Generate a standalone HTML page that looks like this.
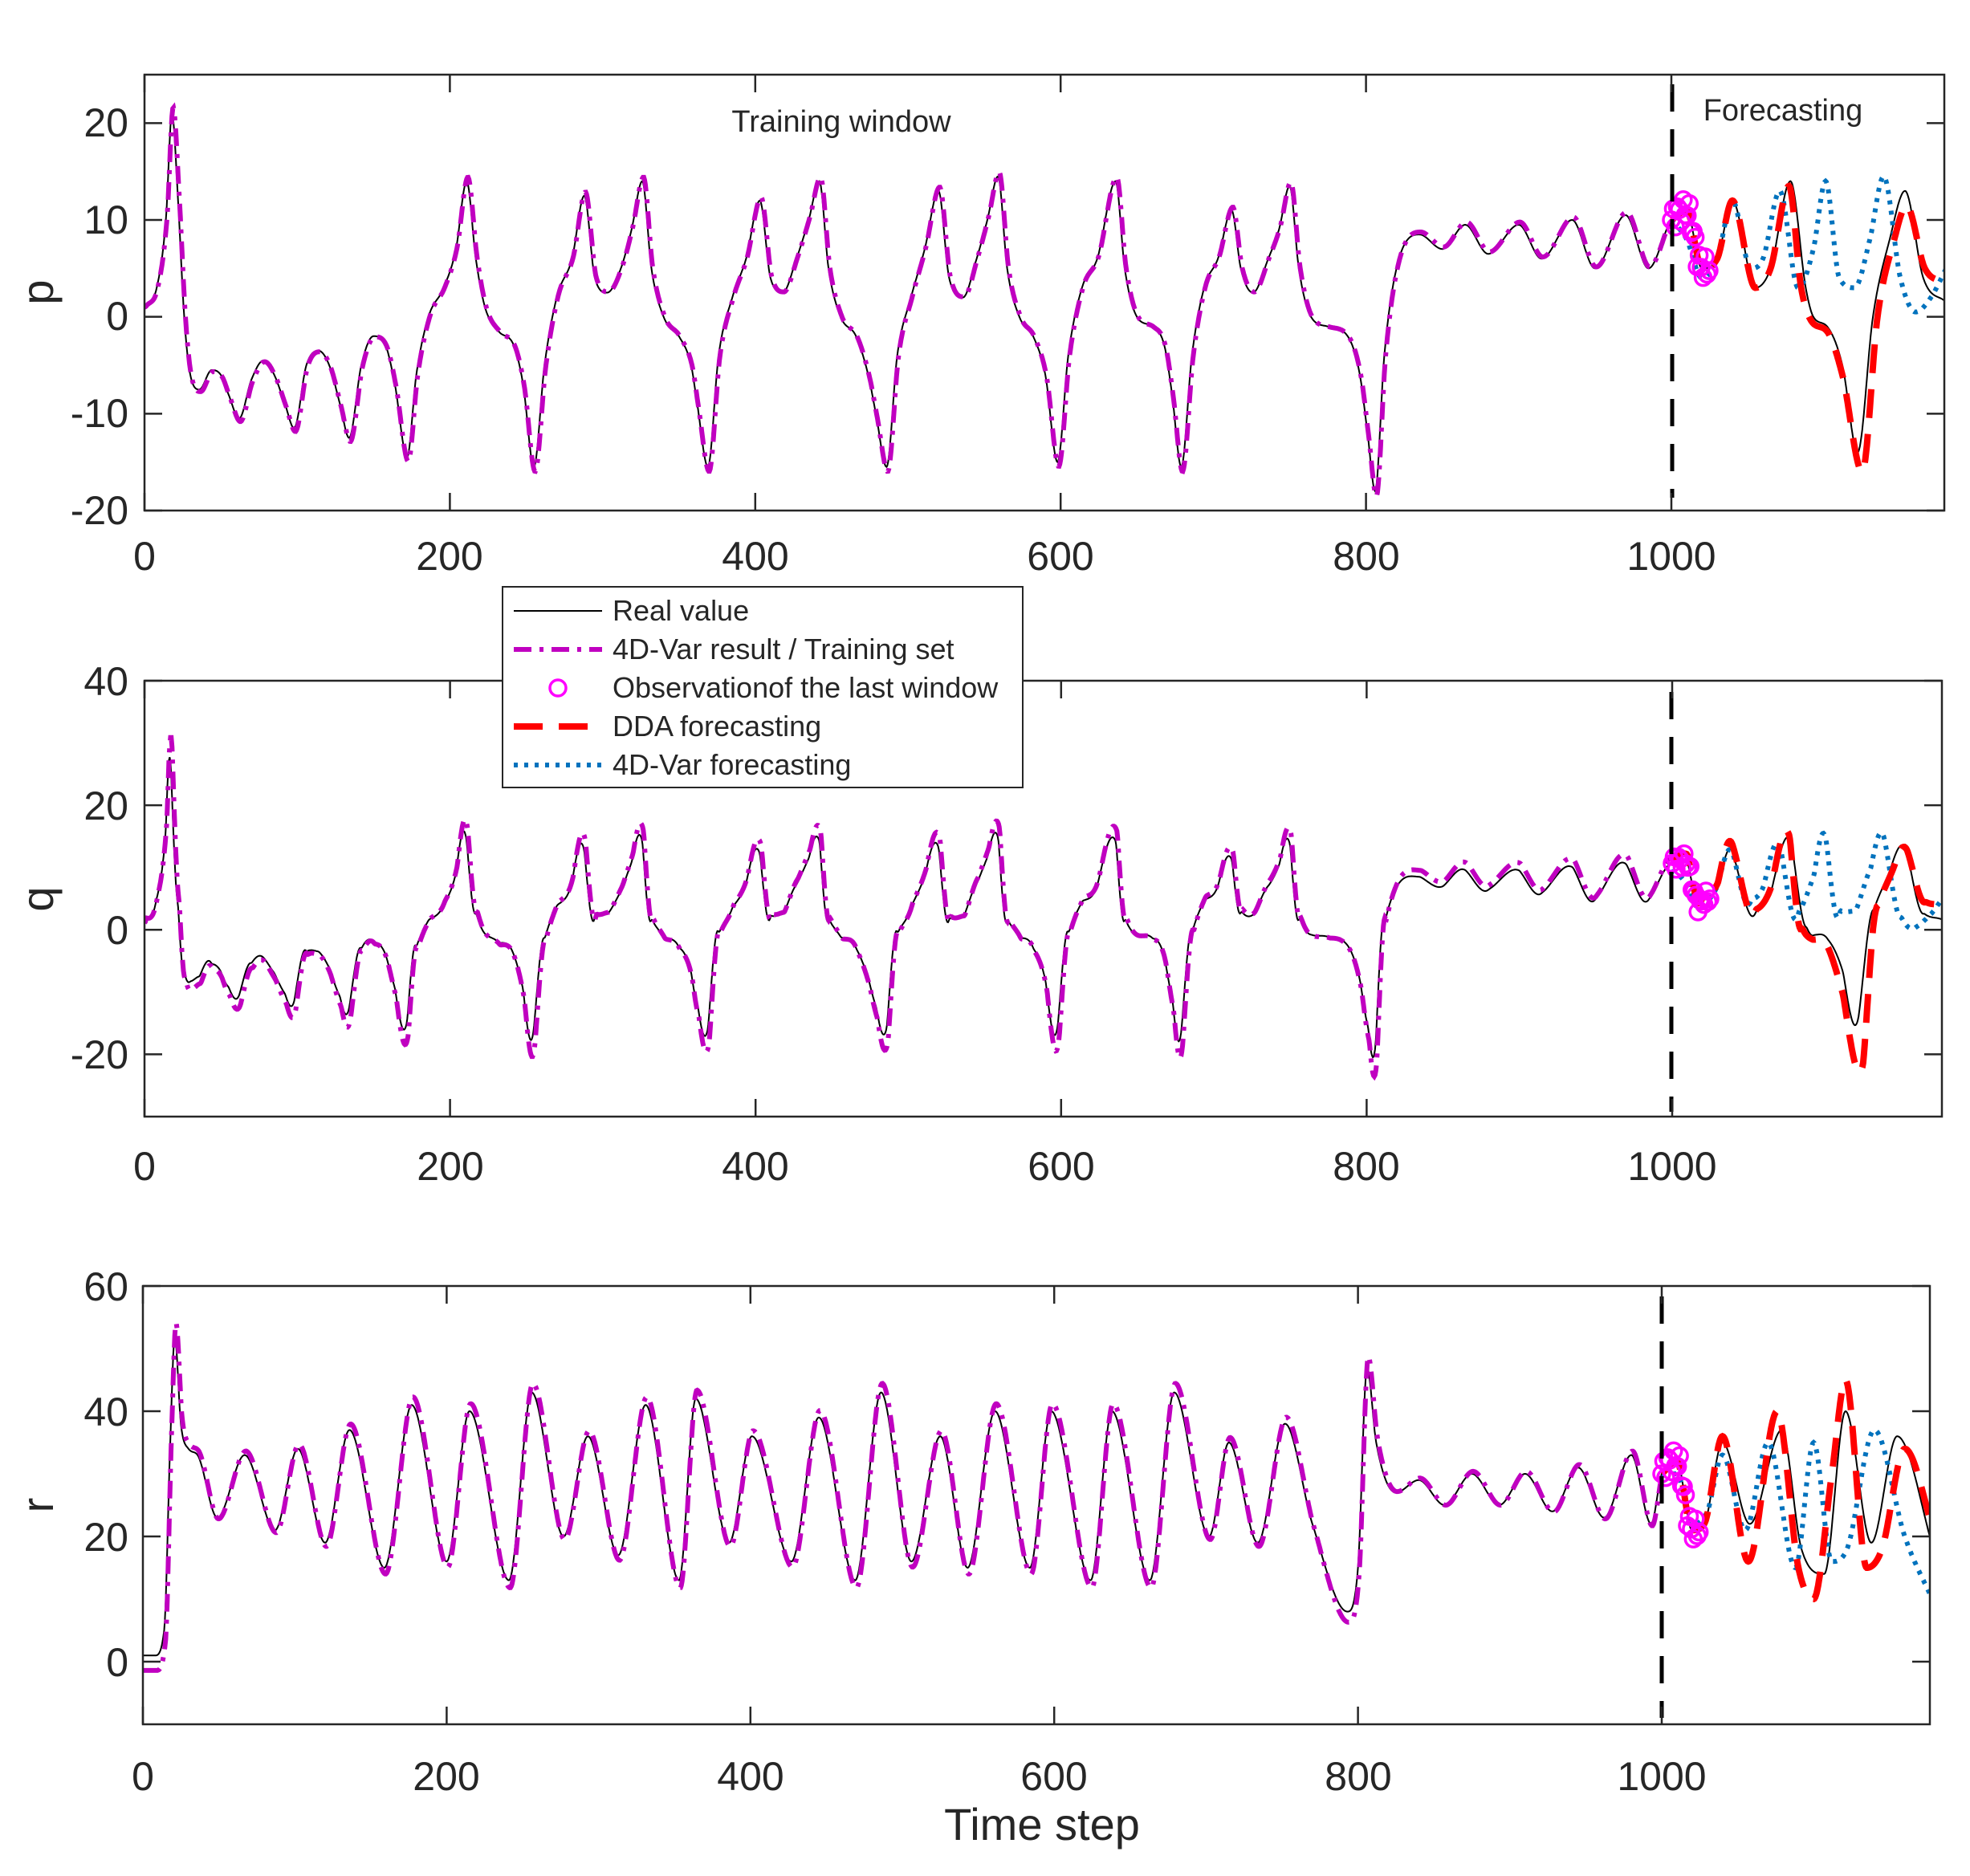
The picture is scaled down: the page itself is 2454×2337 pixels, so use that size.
<!DOCTYPE html>
<html><head><meta charset="utf-8"><style>
html,body{margin:0;padding:0;background:#fff}
svg{display:block}
text{font-family:"Liberation Sans",sans-serif;fill:#262626}
</style></head><body>
<svg id="s" width="2454" height="2337" viewBox="0 0 2454 2337" xmlns="http://www.w3.org/2000/svg">
<defs>
<clipPath id="c1"><rect x="180" y="93" width="2242" height="543"/></clipPath>
<clipPath id="c2"><rect x="180" y="848" width="2239" height="543"/></clipPath>
<clipPath id="c3"><rect x="178" y="1602" width="2226" height="546"/></clipPath>
</defs>
<rect width="2454" height="2337" fill="#fff"/>
<g id="g1" clip-path="url(#c1)"></g>
<g id="g2" clip-path="url(#c2)"></g>
<g id="g3" clip-path="url(#c3)"></g>
<g id="axes" stroke="#262626" stroke-width="2.5" fill="none"></g>
<g font-size="50" text-anchor="middle">
<text x="180" y="710">0</text><text x="560" y="710">200</text><text x="941" y="710">400</text><text x="1321" y="710">600</text><text x="1702" y="710">800</text><text x="2082" y="710">1000</text>
<text x="180" y="1470">0</text><text x="561" y="1470">200</text><text x="941" y="1470">400</text><text x="1322" y="1470">600</text><text x="1702" y="1470">800</text><text x="2083" y="1470">1000</text>
<text x="178" y="2230">0</text><text x="556" y="2230">200</text><text x="935" y="2230">400</text><text x="1313" y="2230">600</text><text x="1692" y="2230">800</text><text x="2070" y="2230">1000</text>
</g>
<g font-size="50" text-anchor="end">
<text x="160" y="170">20</text><text x="160" y="291">10</text><text x="160" y="411">0</text><text x="160" y="532">-10</text><text x="160" y="653">-20</text>
<text x="160" y="866">40</text><text x="160" y="1021">20</text><text x="160" y="1176">0</text><text x="160" y="1331">-20</text>
<text x="160" y="1620">60</text><text x="160" y="1776">40</text><text x="160" y="1932">20</text><text x="160" y="2088">0</text>
</g>
<text font-size="56" text-anchor="middle" transform="translate(66,364) rotate(-90)">p</text>
<text font-size="56" text-anchor="middle" transform="translate(66,1120) rotate(-90)">q</text>
<text font-size="56" text-anchor="middle" transform="translate(66,1875) rotate(-90)">r</text>
<text font-size="56" x="1298" y="2292" text-anchor="middle">Time step</text>
<text font-size="38" x="1048" y="164" text-anchor="middle" fill="#000">Training window</text>
<text font-size="38" x="2221" y="150" text-anchor="middle" fill="#000">Forecasting</text>
<g>
<rect x="626" y="731" width="648" height="250" fill="#fff" stroke="#262626" stroke-width="2"/>
<line x1="640" y1="761" x2="750" y2="761" stroke="#000" stroke-width="2"/>
<line x1="640" y1="809" x2="750" y2="809" stroke="#c000c0" stroke-width="6" stroke-dasharray="22 10 5 10"/>
<circle cx="695" cy="857" r="10" fill="none" stroke="#ff00ff" stroke-width="3.5"/>
<line x1="640" y1="905" x2="750" y2="905" stroke="#ff0000" stroke-width="8" stroke-dasharray="36 20"/>
<line x1="640" y1="953" x2="750" y2="953" stroke="#0072bd" stroke-width="6" stroke-dasharray="5 8"/>
<g font-size="36" fill="#000">
<text x="763" y="773">Real value</text>
<text x="763" y="821">4D-Var result / Training set</text>
<text x="763" y="869">Observationof the last window</text>
<text x="763" y="917">DDA forecasting</text>
<text x="763" y="965">4D-Var forecasting</text>
</g>
</g>
</svg>
<script>
function mono(pts){var n=pts.length,x=pts.map(p=>p[0]),y=pts.map(p=>p[1]),d=[],m=[];
for(var i=0;i<n-1;i++)d.push((y[i+1]-y[i])/(x[i+1]-x[i]));
m[0]=d[0];m[n-1]=d[n-2];for(i=1;i<n-1;i++){m[i]=(d[i-1]*d[i]<=0)?0:(d[i-1]+d[i])/2;}
for(i=0;i<n-1;i++){if(d[i]==0){m[i]=0;m[i+1]=0;continue;}var a=m[i]/d[i],b=m[i+1]/d[i],s=a*a+b*b;if(s>9){var t=3/Math.sqrt(s);m[i]=t*a*d[i];m[i+1]=t*b*d[i];}}
return function(t){if(t<=x[0])return y[0];if(t>=x[n-1])return y[n-1];var k=0;while(x[k+1]<t)k++;var h=x[k+1]-x[k],u=(t-x[k])/h,u2=u*u,u3=u2*u;
return (2*u3-3*u2+1)*y[k]+(u3-2*u2+u)*h*m[k]+(-2*u3+3*u2)*y[k+1]+(u3-u2)*h*m[k+1];};}
var pTrain=[[0,1],[8,3],[14,10],[18,21],[22,12],[26,0],[30,-6],[36,-7.5],[44,-5.5],[50,-6],[55,-8],[62,-10.5],[70,-6.5],[78,-4.5],[85,-6],[92,-9],[98,-11.5],[106,-5],[114,-3.5],[121,-5],[128,-9],[134,-12.5],[142,-5],[150,-2],[158,-3],[164,-7],[172,-14.5],[178,-6],[186,0],[196,3],[204,7],[211,14],[217,6],[223,1],[232,-1.5],[242,-3],[248,-7],[255,-15.5],[262,-5],[270,2],[280,6],[288,12.5],[295,4],[303,2.5],[312,5],[319,9],[326,14],[332,5],[340,0],[350,-2],[358,-5],[362,-9],[369,-15.5],[376,-4],[385,2],[394,6],[403,12],[410,4],[418,2.5],[427,6],[435,10],[442,14],[448,5],[456,0],[466,-2],[474,-6],[479,-10],[486,-15.5],[493,-4],[502,2],[511,7],[520,13],[527,4],[536,2],[545,6],[552,10],[559,14.5],[565,5],[573,0],[582,-2],[590,-6],[598,-15],[605,-4],[614,3],[624,6],[636,14],[642,5],[650,0],[660,-1],[668,-3],[673,-8],[679,-15.5],[686,-4],[694,3],[703,6],[712,11],[718,5],[726,2.5],[736,6],[743,9],[750,13.5],[756,5],[764,0],[775,-1],[788,-2],[796,-6],[801,-12],[806,-18],[812,-4],[820,5],[835,8.5],[850,7],[865,9.5],[880,6.5],[900,9.5],[915,6],[935,10],[950,5],[970,10.5],[985,5],[1000,10]];
var pReal=pTrain.concat([[1010,11],[1020,5],[1030,6],[1040,12],[1055,3],[1065,5],[1078,14],[1088,3],[1093,0],[1102,-1],[1112,-5],[1122,-14],[1132,0],[1143,8],[1153,13],[1165,4],[1180,1.5]]);
var pRed=[[1000,10],[1010,11],[1020,5],[1030,6],[1040,12],[1055,3],[1065,5],[1077,13.5],[1085,3],[1092,-0.5],[1102,-1.5],[1112,-6],[1125,-16],[1135,0],[1146,8],[1154,11.5],[1166,5],[1180,3.5]];
var pBlue=[[1000,10],[1010,8],[1020,4],[1030,6],[1040,12],[1052,5],[1060,6],[1071,13],[1083,3],[1093,7],[1101,14],[1110,4],[1120,3],[1130,8],[1139,14.5],[1150,4],[1160,0.5],[1170,2],[1180,5]];
var rTrain=[[0,1],[8,1],[14,5],[18,35],[21,52],[25,38],[30,34],[36,33],[49,23],[67,33],[87,21],[102,34],[120,19],[136,37],[159,15],[177,41],[200,16],[215,40],[241,13],[256,43],[277,20],[293,36],[313,17],[331,41],[353,13],[364,42],[386,19],[401,36],[427,16],[445,39],[469,13],[486,43],[506,16],[525,36],[543,15],[561,40],[584,15],[598,40],[624,13],[638,40],[663,13],[679,43],[702,20],[715,35],[734,19],[752,38],[770,22],[793,8],[800,15],[806,47],[812,35],[825,27],[840,29],[857,25],[875,30],[893,25],[910,30],[928,24],[945,31],[962,23],[980,33],[993,22],[1000,30]];
var rReal=rTrain.concat([[1010,32],[1020,21],[1028,22],[1040,35],[1058,22],[1079,37],[1092,18],[1107,14],[1121,40],[1138,19],[1155,36],[1180,17]]);
var rRed=[[1000,30],[1010,32],[1020,21],[1028,22],[1040,36],[1057,16],[1076,40],[1090,15],[1100,10],[1112,30],[1121,45],[1135,15],[1145,18],[1160,34],[1180,20]];
var rBlue=[[1000,30],[1010,30],[1020,22],[1030,24],[1040,33],[1055,21],[1070,35],[1088,15],[1100,35],[1112,16],[1122,18],[1140,37],[1160,20],[1180,9]];
var P=[{x0:180,sx:1.902,top:93,bot:636,lo:-20,hi:25,r:2422,g:'g1',ticks:[-20,-10,0,10,20],vx:2083,vy:[105,620]},
{x0:180,sx:1.903,top:848,bot:1391,lo:-30,hi:40,r:2419,g:'g2',ticks:[-20,0,20,40],vx:2082,vy:[862,1385]},
{x0:178,sx:1.892,top:1602,bot:2148,lo:-10,hi:60,r:2404,g:'g3',ticks:[0,20,40,60],vx:2070,vy:[1615,2140]}];
function X(a,s){return a.x0+a.sx*s}function Y(a,v){return a.bot-(v-a.lo)/(a.hi-a.lo)*(a.bot-a.top)}
function path(a,f,s0,s1){var d='';for(var s=s0;s<=s1;s+=0.5){d+=(d?'L':'M')+X(a,s).toFixed(1)+','+Y(a,f(s)).toFixed(1);}return d;}
function qf(f,k){k=k||3;return function(s){var v=f(s)+k*(f(s+0.5)-f(s-0.5));return v;};}
var ns='http://www.w3.org/2000/svg';
function add(g,tag,at){var e=document.createElementNS(ns,tag);for(var k in at)e.setAttribute(k,at[k]);document.getElementById(g).appendChild(e);return e;}
var fp=mono(pReal),fr=mono(rReal),fpR=mono(pRed),fpB=mono(pBlue),frR=mono(rRed),frB=mono(rBlue);
var fq=qf(fp),fqB=qf(fpB);
var fqR0=qf(fpR);var fqR=function(s){var v=fqR0(s);return v<0?v*1.35:v*1.1;};
var sets=[[fp,fpR,fpB,1.03],[fq,fqR,fqB,1.12],[fr,frR,frB,1.03]];
P.forEach(function(a,i){var S=sets[i];var f=S[0];
 add(a.g,'path',{d:path(a,f,0,1185),fill:'none',stroke:'#000','stroke-width':2});
 var mg=function(s){var v=f(s-0.8);if(i==2)return v+(v>25?(v-25)*0.08:-(25-v)*0.1);if(i==1)return v<0?v*1.15:v*1.12;return v*S[3];};
 add(a.g,'path',{d:path(a,mg,0,1000),fill:'none',stroke:'#c000c0','stroke-width':6,'stroke-dasharray':'22 10 5 10'});
 add(a.g,'path',{d:path(a,S[2],1000,1185),fill:'none',stroke:'#0072bd','stroke-width':6,'stroke-dasharray':'5 8'});
 add(a.g,'path',{d:path(a,S[1],1000,1185),fill:'none',stroke:'#ff0000','stroke-width':8,'stroke-dasharray':'36 20'});
 for(var k=0;k<20;k++){var s=1000+k*1.3;var v=f(s)+1.2*Math.sin(k*2.3)*(i==2?1.5:1);
  add(a.g,'circle',{cx:X(a,s),cy:Y(a,v),r:10,fill:'none',stroke:'#ff00ff','stroke-width':3.5});}
 add(a.g,'line',{x1:a.vx,y1:a.vy[0],x2:a.vx,y2:a.vy[1],stroke:'#000','stroke-width':5,'stroke-dasharray':'34 22'});
 add('axes','rect',{x:a.x0,y:a.top,width:a.r-a.x0,height:a.bot-a.top});
 for(var t=0;t<=1000;t+=200){var x=X(a,t);add('axes','line',{x1:x,y1:a.bot,x2:x,y2:a.bot-22});add('axes','line',{x1:x,y1:a.top,x2:x,y2:a.top+22});}
 a.ticks.forEach(function(v){var y=Y(a,v);add('axes','line',{x1:a.x0,y1:y,x2:a.x0+22,y2:y});add('axes','line',{x1:a.r,y1:y,x2:a.r-22,y2:y});});
});
</script>
</body></html>
